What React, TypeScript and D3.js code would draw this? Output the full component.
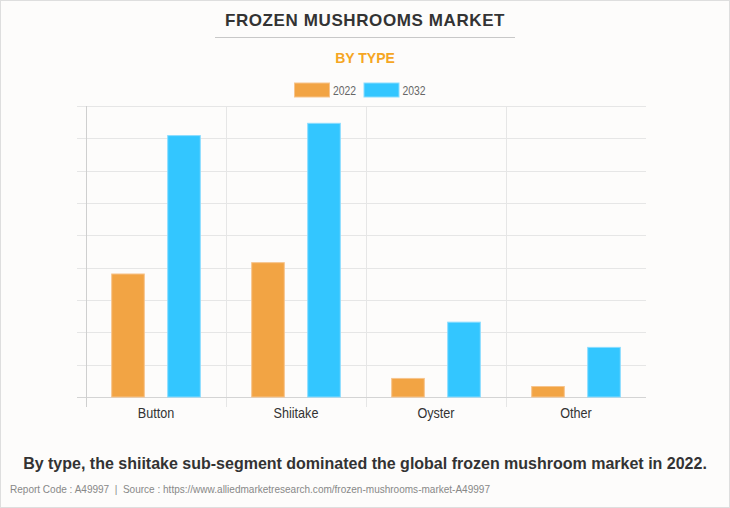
import * as d3 from "d3";
import * as React from "react";

const categories = ["Button", "Shiitake", "Oyster", "Other"];
const years = ["2022", "2032"];
const values2022 = [3.82, 4.17, 0.59, 0.34];
const values2032 = [8.1, 8.48, 2.33, 1.55];
const yTicks = [0, 1, 2, 3, 4, 5, 6, 7, 8, 9];

const W = 730;
const H = 508;
const margin = { top: 106, right: 84, bottom: 111, left: 86 };
const colors: Record<string, string> = { "2022": "#f2a444", "2032": "#33c6ff" };
const strokes: Record<string, string> = { "2022": "#f7c48c", "2032": "#8adcff" };
const sans = "'Liberation Sans', Arial, sans-serif";

// no narrow font installed, so squeeze Liberation Sans horizontally
function Narrow(props: { x: number; y: number; k?: number; size: number; fill: string; anchor?: string; children: React.ReactNode }) {
    const { x, y, k = 0.82, size, fill, anchor = "start", children } = props;
    return (
        <text transform={`translate(${x},${y}) scale(${k},1)`} textAnchor={anchor}
            fontFamily={sans} fontSize={size} fill={fill}>{children}</text>
    );
}

export default function App() {
    const x = d3.scaleBand()
        .domain(categories)
        .range([margin.left, W - margin.right]);
    const inner = d3.scaleBand()
        .domain(years)
        .range([0, x.bandwidth()])
        .paddingInner(0.4)
        .paddingOuter(0.45);
    const y = d3.scaleLinear()
        .domain([0, 9])
        .range([H - margin.bottom, margin.top]);

    const series = years.map((yr, i) => ({ yr, values: i === 0 ? values2022 : values2032 }));
    const base = y(0);

    return (
        <svg width={W} height={H} style={{ position: "absolute", left: 0, top: 0, display: "block" }}>
            <rect x={0.5} y={0.5} width={W - 1} height={H - 1} fill="#fdfcfb" stroke="#dedede" />

            <text x={W / 2} y={26} textAnchor="middle" fontFamily={sans} fontWeight="bold"
                fontSize={17} fill="#333" letterSpacing={0.6}>FROZEN MUSHROOMS MARKET</text>
            <line x1={215} x2={515} y1={37.5} y2={37.5} stroke="#c8c8c8" />
            <text x={W / 2} y={63} textAnchor="middle" fontFamily={sans} fontWeight="bold"
                fontSize={14} fill="#f5a623">BY TYPE</text>

            <g>
                {years.map((yr, i) => (
                    <g key={yr} transform={`translate(${294 + i * 69.5},82.5)`}>
                        <rect x={0.5} y={0.5} width={35} height={14} fill={colors[yr]} stroke={strokes[yr]} />
                        <Narrow x={39} y={12} size={13} k={0.8} fill="#666">{yr}</Narrow>
                    </g>
                ))}
            </g>

            <g>
                {yTicks.slice(1).map(t => (
                    <line key={t} x1={margin.left - 9} x2={W - margin.right} y1={Math.round(y(t)) + 0.5}
                        y2={Math.round(y(t)) + 0.5} stroke="#e6e6e6" />
                ))}
                {categories.slice(1).map(c => (
                    <line key={c} x1={Math.round(x(c)!) + 0.5} x2={Math.round(x(c)!) + 0.5}
                        y1={margin.top} y2={base + 10} stroke="#e6e6e6" />
                ))}
                <line x1={margin.left - 9} x2={W - margin.right} y1={Math.round(base) + 0.5}
                    y2={Math.round(base) + 0.5} stroke="#d4d4d4" />
                <line x1={margin.left + 0.5} x2={margin.left + 0.5} y1={margin.top} y2={base + 10} stroke="#cfcfcf" />
            </g>

            <g>
                {series.map(s => s.values.map((v, i) => {
                    const bx = x(categories[i])! + inner(s.yr)!;
                    return (
                        <rect key={s.yr + i} x={bx + 0.5} y={y(v) + 0.5} width={inner.bandwidth() - 1}
                            height={base - y(v) - 0.5} fill={colors[s.yr]} stroke={strokes[s.yr]} />
                    );
                }))}
            </g>

            <g>
                {categories.map(c => (
                    <Narrow key={c} x={x(c)! + x.bandwidth() / 2} y={418} anchor="middle"
                        size={14.5} k={0.87} fill="#333">{c}</Narrow>
                ))}
            </g>

            <text x={W / 2} y={469} textAnchor="middle" fontFamily={sans} fontWeight="bold"
                fontSize={16} fill="#333">By type, the shiitake sub-segment dominated the global frozen mushroom market in 2022.</text>
            <text x={10} y={493} fontFamily={sans} fontSize={10.8} fill="#888" textLength={480}
                lengthAdjust="spacingAndGlyphs" xmlSpace="preserve">Report Code : A49997  |  Source : https://www.alliedmarketresearch.com/frozen-mushrooms-market-A49997</text>
        </svg>
    );
}
